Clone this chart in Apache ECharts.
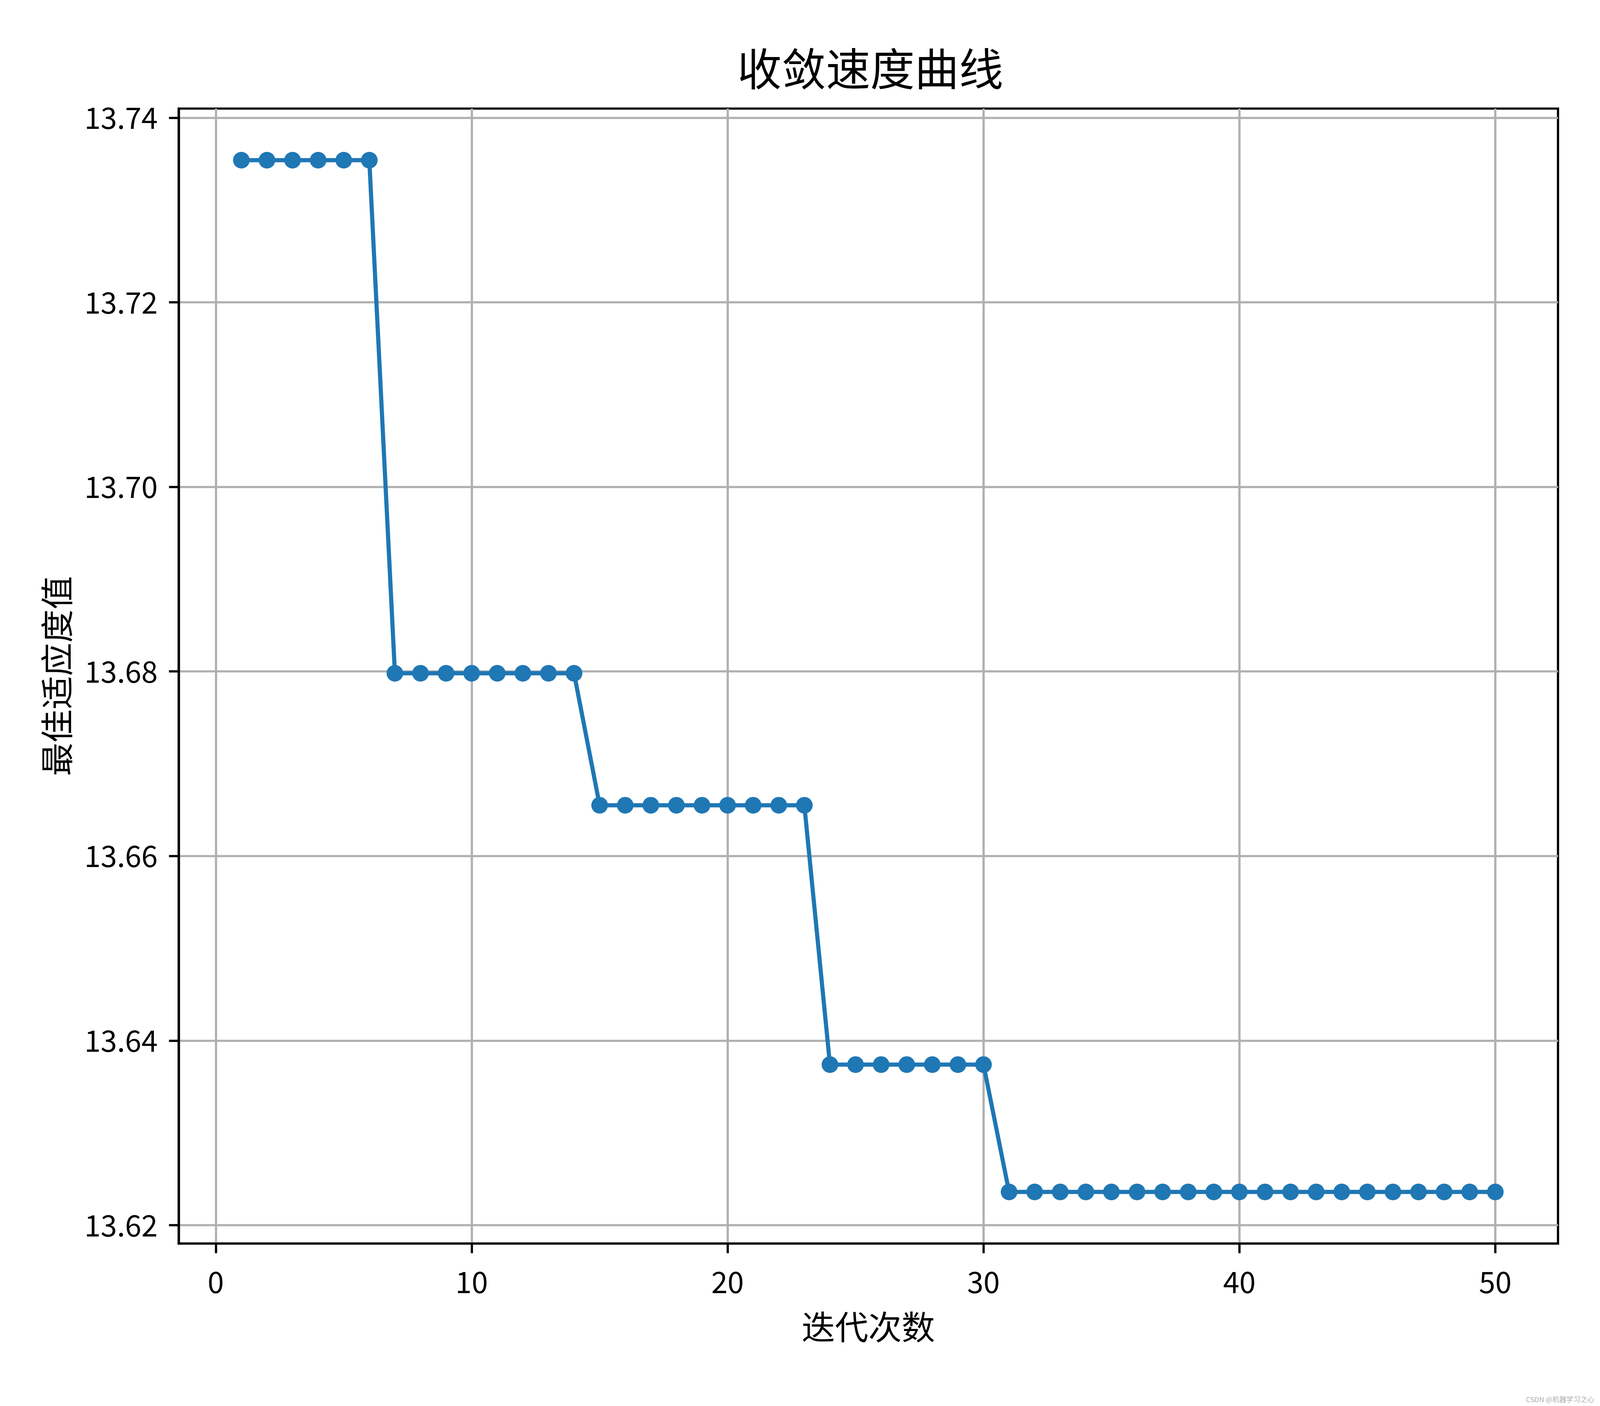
<!DOCTYPE html>
<html>
<head>
<meta charset="utf-8">
<script src="https://cdn.jsdelivr.net/npm/echarts@6/dist/echarts.min.js"></script>
<style>
html,body{margin:0;padding:0;background:#fff;overflow:hidden;width:100%;height:100%;}
#chart{position:absolute;left:0;top:0;width:100vw;height:100vh;}
</style>
</head>
<body>
<div id="chart"></div>
<script>
// ---- data ----
const titleText = '收敛速度曲线';
const xName = '迭代次数';
const yName = '最佳适应度值';
const iterations = [1,2,3,4,5,6,7,8,9,10,11,12,13,14,15,16,17,18,19,20,21,22,23,24,25,26,27,28,29,30,31,32,33,34,35,36,37,38,39,40,41,42,43,44,45,46,47,48,49,50];
const bestFitness = [
  13.7354,13.7354,13.7354,13.7354,13.7354,13.7354,
  13.6798,13.6798,13.6798,13.6798,13.6798,13.6798,13.6798,13.6798,
  13.6655,13.6655,13.6655,13.6655,13.6655,13.6655,13.6655,13.6655,13.6655,
  13.6374,13.6374,13.6374,13.6374,13.6374,13.6374,13.6374,
  13.6236,13.6236,13.6236,13.6236,13.6236,13.6236,13.6236,13.6236,13.6236,13.6236,
  13.6236,13.6236,13.6236,13.6236,13.6236,13.6236,13.6236,13.6236,13.6236,13.6236
];
const xTicks = [0,10,20,30,40,50];
const yTicks = [13.62,13.64,13.66,13.68,13.70,13.72,13.74];
const watermark = 'CSDN @机器学习之心';

const seriesData = iterations.map((x, i) => [x, bestFitness[i]]);

// layout is designed on a 4800x3600 canvas and scaled to the actual viewport
const el = document.getElementById('chart');
const W = el.clientWidth || 4800;
const H = el.clientHeight || 3600;
const sx = W / 4800, sy = H / 3600, s = Math.min(sx, sy);

const FONT = '"Noto Sans CJK SC", "Noto Sans", sans-serif';
const chart = echarts.init(el, null, {renderer: 'canvas', width: W, height: H});
chart.setOption({
  animation: false,
  backgroundColor: '#ffffff',
  title: {
    text: titleText,
    left: 2605 * sx,
    top: 181 * sy - 5 - 72 * s,
    textAlign: 'center',
    textStyle: {fontFamily: FONT, fontSize: 133 * s, fontWeight: 'normal', color: '#000'}
  },
  grid: {
    left: 536 * sx, right: 126 * sx, top: 278 * sy, bottom: 416 * sy,
    show: true, borderColor: '#000', borderWidth: 6.7 * s, backgroundColor: 'transparent',
    containLabel: false
  },
  xAxis: {
    type: 'value',
    min: -1.45, max: 52.45,
    name: xName,
    nameLocation: 'middle',
    nameGap: 220 * sy - 57 * s,
    nameTextStyle: {fontFamily: FONT, fontSize: 100 * s, color: '#000'},
    axisLine: {show: true, onZero: false, lineStyle: {color: '#000', width: 6.7 * s}},
    axisTick: {show: true, inside: false, length: 29 * s, customValues: xTicks, lineStyle: {color: '#000', width: 6.7 * s}},
    axisLabel: {show: true, margin: 98 * sy - 44 * s, customValues: xTicks, fontFamily: FONT, fontSize: 88 * s, color: '#000',
      formatter: v => String(v)},
    splitLine: {show: true, lineStyle: {color: '#b0b0b0', width: 6.7 * s}},
    minorTick: {show: false}
  },
  yAxis: {
    type: 'value',
    min: 13.61801, max: 13.74099,
    name: yName,
    nameLocation: 'middle',
    nameGap: 365 * sx - 50 * s,
    nameRotate: 90,
    nameTextStyle: {fontFamily: FONT, fontSize: 100 * s, color: '#000'},
    axisLine: {show: true, onZero: false, lineStyle: {color: '#000', width: 6.7 * s}},
    axisTick: {show: true, inside: false, length: 29 * s, customValues: yTicks, lineStyle: {color: '#000', width: 6.7 * s}},
    axisLabel: {show: true, margin: 63 * s, customValues: yTicks, fontFamily: FONT, fontSize: 88 * s, color: '#000',
      formatter: v => v.toFixed(2)},
    splitLine: {show: true, lineStyle: {color: '#b0b0b0', width: 6.7 * s}}
  },
  graphic: [{
    type: 'text',
    right: 17 * sx,
    bottom: 8 * sy,
    style: {text: watermark, fontFamily: FONT, fontSize: 21 * s, fill: '#a8a8a8'}
  }],
  series: [{
    type: 'line',
    data: seriesData,
    symbol: 'circle',
    symbolSize: 50 * s,
    showSymbol: true,
    lineStyle: {color: '#1f77b4', width: 12.5 * s},
    itemStyle: {color: '#1f77b4', borderWidth: 0},
    z: 5
  }]
});
</script>
</body>
</html>
